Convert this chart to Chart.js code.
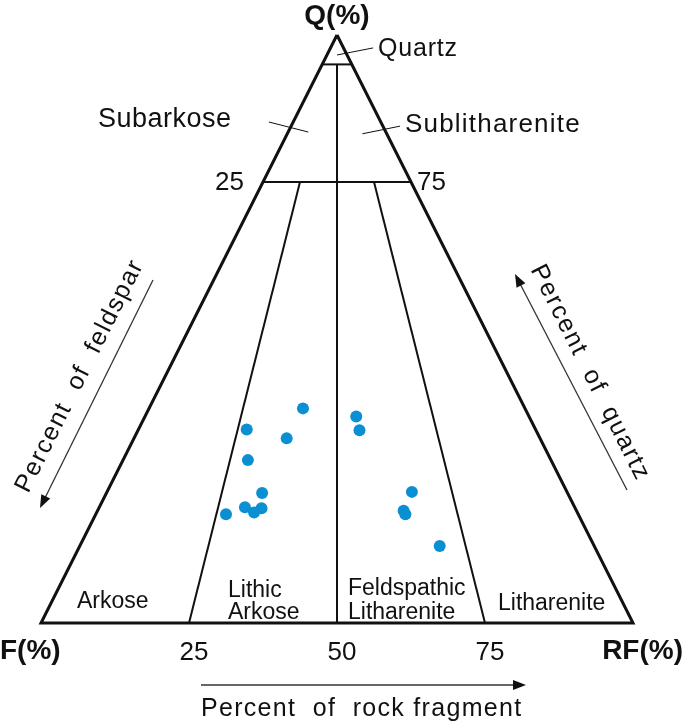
<!DOCTYPE html>
<html>
<head>
<meta charset="utf-8">
<title>QFR ternary diagram</title>
<script src="https://cdn.jsdelivr.net/npm/chart.js@4.4.1/dist/chart.umd.min.js"></script>
<style>
  html, body { margin: 0; padding: 0; background: #fff; }
  canvas { display: block; }
</style>
</head>
<body>
<canvas id="qfrChart" width="685" height="723"></canvas>
<script>
// Sample compositions, percent of quartz / feldspar / rock fragment
const quartz   = [36.5, 32.9, 31.4, 27.7, 22.1, 19.7, 18.8, 19.5, 18.5, 35.1, 32.8, 22.3, 19.1, 18.5, 13.1];
const feldspar = [37.5, 48.8, 42.8, 51.2, 51.6, 55.7, 54.6, 53.0, 59.5, 29.2, 29.8, 26.2, 29.2, 29.2, 26.1];
const rockFrag = [26.0, 18.3, 25.8, 21.1, 26.3, 24.6, 26.6, 27.5, 22.0, 35.7, 37.4, 51.5, 51.7, 52.3, 60.8];

// Classification boundaries (Folk)
const quartzLevels = [95, 75];          // Q % of the horizontal lines
const ratioLevels  = [25, 50, 75];      // RF / (F + RF) %
const ratioStartQ  = [75, 95, 75];      // Q where each ratio line starts
const baseTicks    = ['25', '50', '75'];
const sideTicks    = ['25', '75'];

// leader lines for the small fields, as [Q, RF] pairs
const leaderQuartz = [[96.6, 1.7], [97.8, 7.2]];
const leaderSubark = [[85.2, -4.1], [83.5, 3.4]];
const leaderSublit = [[83.2, 12.7], [84.5, 18.4]];

// ternary -> plot coordinates (F at 0,0, RF at 100,0, Q at 50,100)
function tern(q, r) {
    return { x: r + q / 2, y: q };
}

function samplePoints() {
    return quartz.map(function(q, i) {
        const sum = q + feldspar[i] + rockFrag[i];
        return tern(q * 100 / sum, rockFrag[i] * 100 / sum);
    });
}

function lineSet(points, width) {
    return {
        type: 'scatter',
        data: points,
        showLine: true,
        borderColor: '#111',
        borderWidth: width,
        pointRadius: 0,
        borderJoinStyle: 'miter',
        clip: false
    };
}

const datasets = [];
datasets.push({
    label: 'Samples',
    data: samplePoints(),
    backgroundColor: '#0b8fd3',
    borderWidth: 0,
    pointRadius: 6,
    pointHoverRadius: 6
});
datasets.push(lineSet([tern(100, 0), tern(0, 0), tern(0, 100), tern(100, 0)], 3));
quartzLevels.forEach(function(q) {
    datasets.push(lineSet([tern(q, 0), tern(q, 100 - q)], 2));
});
ratioLevels.forEach(function(rf, i) {
    const q0 = ratioStartQ[i];
    datasets.push(lineSet([tern(q0, (100 - q0) * rf / 100), tern(0, rf)], 2));
});
[leaderQuartz, leaderSubark, leaderSublit].forEach(function(l) {
    datasets.push(lineSet(l.map(function(p) { return tern(p[0], p[1]); }), 1));
});

function text(ctx, str, x, y, font, align, spacing) {
    ctx.save();
    ctx.font = font;
    ctx.textAlign = align || 'left';
    ctx.textBaseline = 'alphabetic';
    ctx.letterSpacing = (spacing || 0) + 'px';
    ctx.fillStyle = '#111';
    ctx.fillText(str, x, y);
    ctx.restore();
}

function arrow(ctx, x1, y1, x2, y2) {
    const a = Math.atan2(y2 - y1, x2 - x1);
    const len = 13, half = 5;
    ctx.save();
    ctx.strokeStyle = '#333';
    ctx.fillStyle = '#111';
    ctx.lineWidth = 1.3;
    ctx.beginPath();
    ctx.moveTo(x1, y1);
    ctx.lineTo(x2 - Math.cos(a) * len * 0.8, y2 - Math.sin(a) * len * 0.8);
    ctx.stroke();
    ctx.beginPath();
    ctx.moveTo(x2, y2);
    ctx.lineTo(x2 - Math.cos(a) * len - Math.sin(a) * half, y2 - Math.sin(a) * len + Math.cos(a) * half);
    ctx.lineTo(x2 - Math.cos(a) * len + Math.sin(a) * half, y2 - Math.sin(a) * len - Math.cos(a) * half);
    ctx.closePath();
    ctx.fill();
    ctx.restore();
}

function rotatedText(ctx, str, cx, cy, angle, font, spacing) {
    ctx.save();
    ctx.translate(cx, cy);
    ctx.rotate(angle);
    ctx.font = font;
    ctx.textAlign = 'center';
    ctx.textBaseline = 'middle';
    ctx.letterSpacing = spacing + 'px';
    ctx.fillStyle = '#111';
    ctx.fillText(str, 0, 0);
    ctx.restore();
}

const FONT = '"Liberation Sans", Arial, sans-serif';

const labelsPlugin = {
    id: 'ternaryLabels',
    afterDraw: function(chart) {
        const ctx = chart.ctx;
        const xs = chart.scales.x, ys = chart.scales.y;

        // corners
        text(ctx, 'Q(%)', xs.getPixelForValue(50), 24, 'bold 28px ' + FONT, 'center');
        text(ctx, 'F(%)', 0, 659, 'bold 28px ' + FONT, 'left');
        text(ctx, 'RF(%)', 683, 659, 'bold 28px ' + FONT, 'right');

        // base ticks
        ratioLevels.forEach(function(v, i) {
            text(ctx, baseTicks[i], xs.getPixelForValue(v) + 5, 660, '26px ' + FONT, 'center');
        });
        // side ticks at the Q 75 line
        const yq = ys.getPixelForValue(75) + 8;
        text(ctx, sideTicks[0], xs.getPixelForValue(tern(75, 0).x) - 19, yq, '26px ' + FONT, 'right');
        text(ctx, sideTicks[1], xs.getPixelForValue(tern(75, 25).x) + 6, yq, '26px ' + FONT, 'left');

        // field names
        text(ctx, 'Quartz', 378, 56, '25px ' + FONT, 'left', 0.8);
        text(ctx, 'Subarkose', 98, 127, '27px ' + FONT, 'left', 0.5);
        text(ctx, 'Sublitharenite', 405, 132, '26px ' + FONT, 'left', 1.2);
        text(ctx, 'Arkose', 77, 608, '23px ' + FONT, 'left', 0);
        text(ctx, 'Lithic', 228, 597, '23px ' + FONT, 'left', 0);
        text(ctx, 'Arkose', 228, 619, '23px ' + FONT, 'left', 0);
        text(ctx, 'Feldspathic', 348, 595, '23px ' + FONT, 'left', 0);
        text(ctx, 'Litharenite', 348, 619, '23px ' + FONT, 'left', 0);
        text(ctx, 'Litharenite', 498, 610, '23px ' + FONT, 'left', 0);

        // direction arrows
        arrow(ctx, 201, 685, 526, 685);
        text(ctx, 'Percent  of  rock fragment', 201, 716, '25px ' + FONT, 'left', 1.3);

        arrow(ctx, 153, 280, 40, 508);
        rotatedText(ctx, 'Percent  of  feldspar', 80, 376, -63.3 * Math.PI / 180, '25px ' + FONT, 1.6);

        arrow(ctx, 627, 490, 515, 274);
        rotatedText(ctx, 'Percent  of  quartz', 590, 373, 63.3 * Math.PI / 180, '25px ' + FONT, 1.8);
    }
};

new Chart(document.getElementById('qfrChart'), {
    type: 'scatter',
    data: { datasets: datasets },
    options: {
        responsive: false,
        animation: false,
        devicePixelRatio: 1,
        layout: {
            padding: { left: 41, right: 52, top: 35, bottom: 100 }
        },
        scales: {
            x: { type: 'linear', min: 0, max: 100, display: false },
            y: { type: 'linear', min: 0, max: 100, display: false }
        },
        plugins: {
            legend: { display: false },
            tooltip: { enabled: false }
        }
    },
    plugins: [labelsPlugin]
});
</script>
</body>
</html>
